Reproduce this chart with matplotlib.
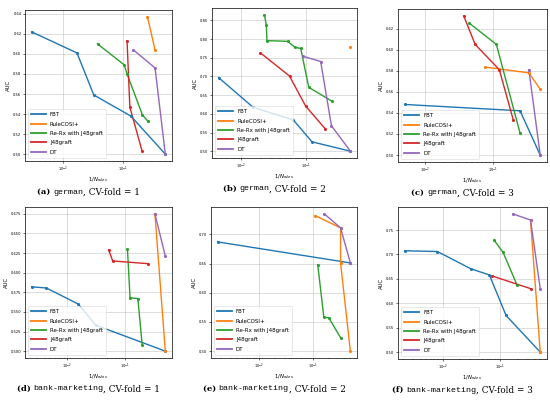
import numpy as np
import matplotlib
matplotlib.use('Agg')
import matplotlib.pyplot as plt

W, H = 550, 403

methods = ['FBT', 'RuleCOSI+', 'Re-Rx with J48graft', 'J48graft', 'DT']
colors = ['#1f77b4', '#ff7f0e', '#2ca02c', '#d62728', '#9467bd']

# 1/N_rules and AUC, one list per method (FBT, RuleCOSI+, Re-Rx, J48graft, DT)
ger1_x = [[0.00295, 0.0168, 0.0321, 0.133, 0.5], [0.252, 0.337],
          [0.037, 0.1035, 0.115, 0.208, 0.255], [0.115, 0.128, 0.205],
          [0.147, 0.337, 0.5]]
ger1_auc = [[0.622, 0.601, 0.559, 0.538, 0.500], [0.637, 0.604],
            [0.610, 0.589, 0.580, 0.539, 0.533], [0.613, 0.547, 0.503],
            [0.604, 0.586, 0.500]]

ger2_x = [[0.0044, 0.0153, 0.064, 0.126, 0.5], [0.5],
          [0.0228, 0.0244, 0.025, 0.0525, 0.068, 0.084, 0.112, 0.256],
          [0.0198, 0.0562, 0.1, 0.202], [0.091, 0.172, 0.253, 0.5]]
ger2_auc = [[0.697, 0.617, 0.584, 0.525, 0.500], [0.778],
            [0.865, 0.838, 0.796, 0.794, 0.778, 0.775, 0.671, 0.634],
            [0.763, 0.701, 0.621, 0.560], [0.754, 0.740, 0.568, 0.500]]

ger3_x = [[0.00506, 0.252, 0.5], [0.0774, 0.34, 0.5], [0.0454, 0.113, 0.252],
          [0.0374, 0.055, 0.125, 0.201], [0.34, 0.5]]
ger3_auc = [[0.548, 0.542, 0.500], [0.5835, 0.578, 0.5625], [0.625, 0.605, 0.521],
            [0.632, 0.605, 0.581, 0.533], [0.581, 0.500]]

bank1_x = [[0.00239, 0.0043, 0.0154, 0.0312, 0.5], [0.33, 0.5],
           [0.11, 0.122, 0.167, 0.198], [0.052, 0.061, 0.249], [0.33, 0.5]]
bank1_auc = [[0.582, 0.5805, 0.560, 0.533, 0.500], [0.675, 0.500],
             [0.630, 0.568, 0.567, 0.508], [0.629, 0.615, 0.6115], [0.675, 0.621]]

bank2_x = [[0.00172, 0.5], [0.111, 0.329, 0.329, 0.5],
           [0.124, 0.161, 0.199, 0.329], [], [0.164, 0.329, 0.5]]
bank2_auc = [[0.687, 0.651], [0.732, 0.711, 0.651, 0.500],
             [0.648, 0.558, 0.557, 0.523], [], [0.735, 0.711, 0.651]]

bank3_x = [[0.00212, 0.0079, 0.0306, 0.0643, 0.126, 0.5], [0.338, 0.5],
           [0.0776, 0.112, 0.197], [0.0716, 0.338], [0.166, 0.338, 0.5]]
bank3_auc = [[0.7075, 0.706, 0.6705, 0.658, 0.575, 0.500], [0.7705, 0.500],
             [0.7295, 0.704, 0.637], [0.656, 0.630], [0.783, 0.7705, 0.630]]

captions = [('(a)', 'german', '1'), ('(b)', 'german', '2'), ('(c)', 'german', '3'),
            ('(d)', 'bank-marketing', '1'), ('(e)', 'bank-marketing', '2'),
            ('(f)', 'bank-marketing', '3')]

panels = [(ger1_x, ger1_auc), (ger2_x, ger2_auc), (ger3_x, ger3_auc),
          (bank1_x, bank1_auc), (bank2_x, bank2_auc), (bank3_x, bank3_auc)]

# axes boxes in pixels: left, right, top, bottom
boxes = [(25, 172, 10, 161), (212, 357, 8, 158), (398, 547, 9, 162),
         (25, 172, 207, 358), (211, 357, 207, 358), (398, 547, 207, 359)]

fig = plt.figure(figsize=(W / 100, H / 100), dpi=100)
fig.patch.set_facecolor('white')

for (xs, ys), (l, r, t, b) in zip(panels, boxes):
    ax = fig.add_axes([l / W, 1 - b / H, (r - l) / W, (b - t) / H])
    for i in range(len(methods)):
        ax.plot(xs[i], ys[i], color=colors[i], lw=1.0, label=methods[i])
        ax.scatter(xs[i], ys[i], color=colors[i], s=5, zorder=3, lw=0)
    ax.set_xscale('log')
    ax.grid(True, color='#b0b0b0', lw=0.5, alpha=0.6)
    ax.set_axisbelow(True)
    for s in ax.spines.values():
        s.set_linewidth(0.5)
    ax.tick_params(labelsize=2.6, length=1.5, width=0.4, pad=1.2)
    ax.tick_params(which='minor', length=0.9, width=0.3)
    ax.set_xlabel('$1/N_{rules}$', fontsize=3.8, labelpad=1)
    ax.set_ylabel('AUC', fontsize=3.8, labelpad=1.5)
    leg = ax.legend(loc='lower left', fontsize=4.0, handlelength=2.6,
                    borderpad=0.6, labelspacing=0.8, framealpha=0.8,
                    edgecolor='#cccccc')
    leg.get_frame().set_linewidth(0.4)
    for ln in leg.get_lines():
        ln.set_linewidth(1.3)

# captions: letter, dataset name in typewriter, rest in serif
fig.canvas.draw()
renderer = fig.canvas.get_renderer()
for (lab, name, fold), (l, r, t, b) in zip(captions, boxes):
    y = 1 - (b + 31) / H
    parts = [fig.text(0, y, lab + ' ', family='DejaVu Serif', fontsize=6.0, weight='semibold', va='center'),
             fig.text(0, y, name, family='Liberation Mono', fontsize=6.0, va='center'),
             fig.text(0, y, ', CV-fold = ' + fold, family='DejaVu Serif', fontsize=6.4, va='center')]
    widths = [p.get_window_extent(renderer).width for p in parts]
    x = (l + r) / 2 - 10 - sum(widths) / 2
    for p, w in zip(parts, widths):
        p.set_x(x / W)
        x += w

fig.savefig('out.png', dpi=100)
